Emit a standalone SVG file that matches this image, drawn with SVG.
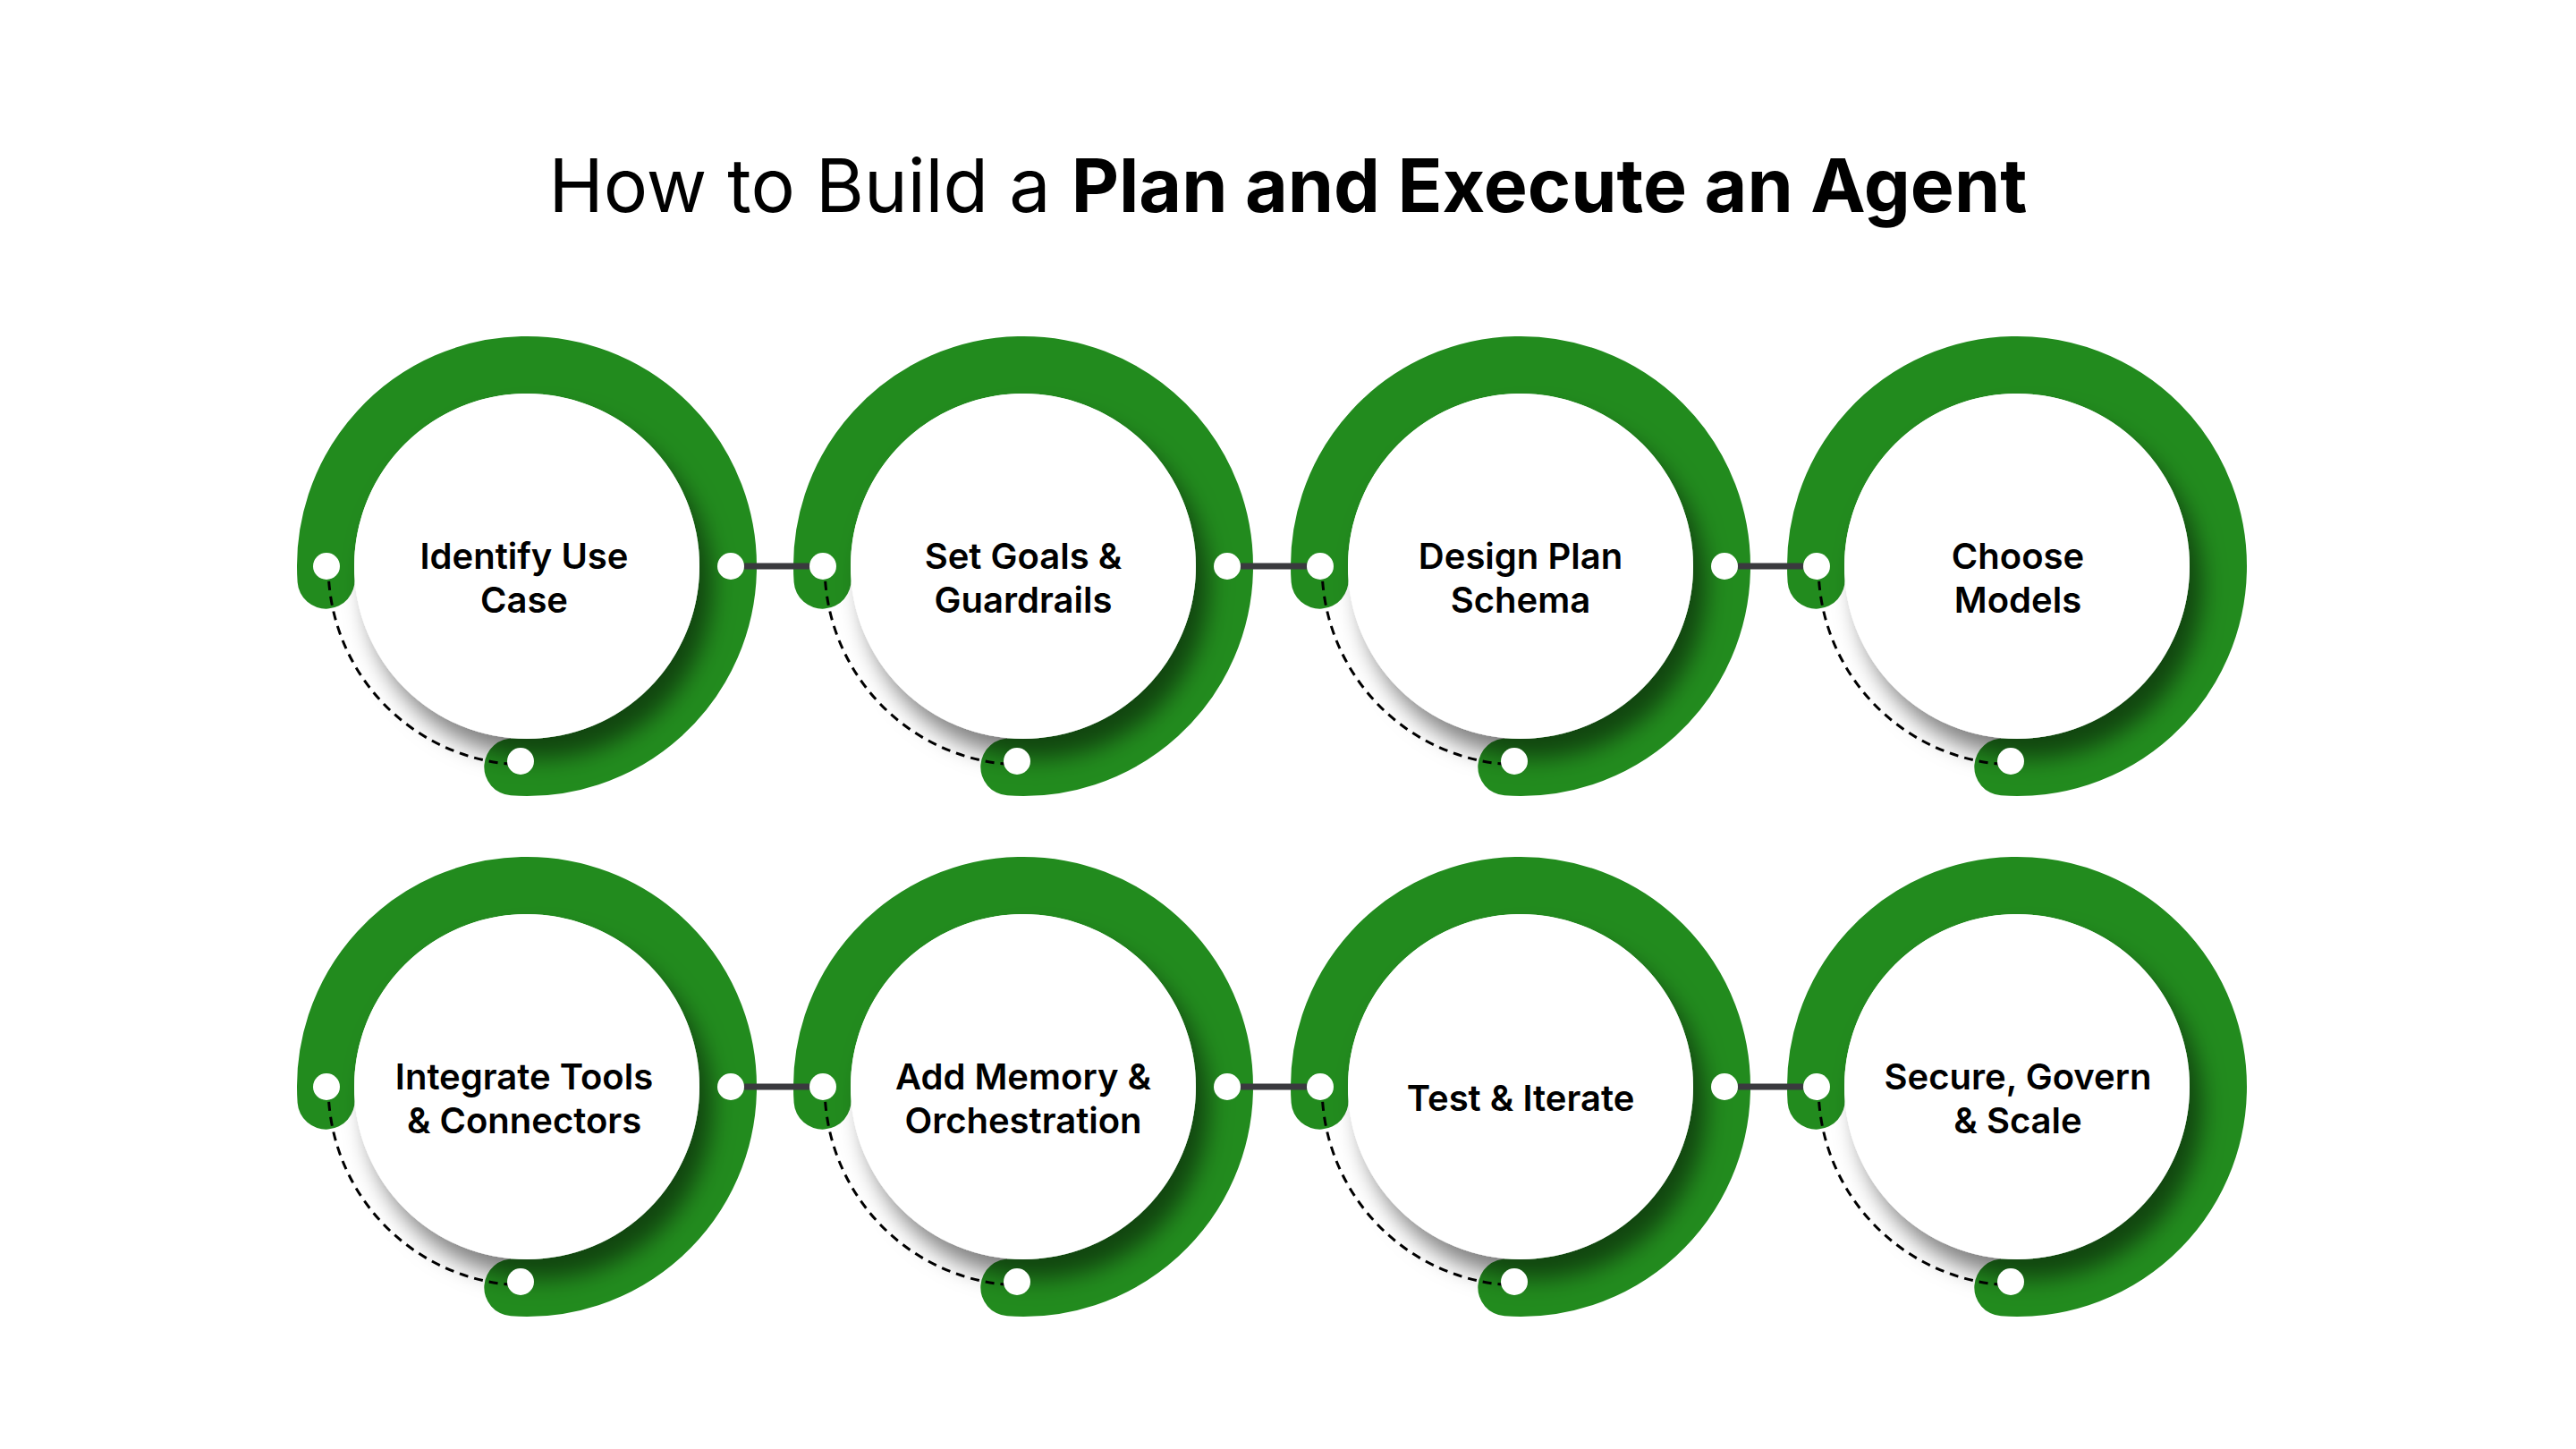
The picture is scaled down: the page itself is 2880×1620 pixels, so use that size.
<svg xmlns="http://www.w3.org/2000/svg" xmlns:xlink="http://www.w3.org/1999/xlink" width="2880" height="1620" viewBox="0 0 2880 1620">
  <style>
    .title { font-family: Inter, "Liberation Sans", sans-serif; font-size: 82.4px; fill: #000; }
    .title .b { font-weight: 700; }
    .label { font-family: Inter, "Liberation Sans", sans-serif; font-size: 40px; font-weight: 600; fill: #000; text-anchor: middle; }
    .ring { fill: none; stroke: #228B1E; stroke-width: 64; stroke-linecap: round; }
    .disc { fill: #fff; filter: url(#shadow); }
    .dash { fill: none; stroke: #000; stroke-width: 3; stroke-dasharray: 10 7; }
    .dot { fill: #fff; }
    .conn { stroke: #3a3a3e; stroke-width: 7; }
  </style>
  <defs>
    <filter id="shadow" x="-30%" y="-30%" width="160%" height="160%">
      <feDropShadow dx="14" dy="22" stdDeviation="13" flood-color="#000" flood-opacity="0.5"/>
    </filter>
    <g id="base">
      <path class="ring" d="M -224.45 15.7 A 225 225 0 1 1 -15.7 224.45"/>
      <circle class="disc" cx="0" cy="0" r="193"/>
      <path class="dash" d="M -222 0 A 222 222 0 0 0 -7.7 221.9"/>
      <circle class="dot" cx="-224" cy="0" r="15"/>
      <circle class="dot" cx="-7" cy="218" r="15"/>
    </g>
    <g id="node">
      <use xlink:href="#base" href="#base"/>
      <circle class="dot" cx="228" cy="0" r="15"/>
    </g>
  </defs>
  <rect width="2880" height="1620" fill="#fff"/>

  <text class="title" x="1440" y="237" text-anchor="middle">How to Build a <tspan class="b">Plan and Execute an Agent</tspan></text>

  <g id="node1">
    <use xlink:href="#node" href="#node" x="589" y="633"/>
    <text class="label"><tspan x="586" y="636">Identify Use</tspan><tspan x="586" y="685">Case</tspan></text>
  </g>
  <g id="node2">
    <use xlink:href="#node" href="#node" x="1144" y="633"/>
    <text class="label"><tspan x="1144" y="636">Set Goals &amp;</tspan><tspan x="1144" y="685">Guardrails</tspan></text>
  </g>
  <g id="node3">
    <use xlink:href="#node" href="#node" x="1700" y="633"/>
    <text class="label"><tspan x="1700" y="636">Design Plan</tspan><tspan x="1700" y="685">Schema</tspan></text>
  </g>
  <g id="node4">
    <use xlink:href="#base" href="#base" x="2255" y="633"/>
    <text class="label"><tspan x="2256" y="636">Choose</tspan><tspan x="2256" y="685">Models</tspan></text>
  </g>
  <g id="node5">
    <use xlink:href="#node" href="#node" x="589" y="1215"/>
    <text class="label"><tspan x="586" y="1218">Integrate Tools</tspan><tspan x="586" y="1267">&amp; Connectors</tspan></text>
  </g>
  <g id="node6">
    <use xlink:href="#node" href="#node" x="1144" y="1215"/>
    <text class="label"><tspan x="1144" y="1218">Add Memory &amp;</tspan><tspan x="1144" y="1267">Orchestration</tspan></text>
  </g>
  <g id="node7">
    <use xlink:href="#node" href="#node" x="1700" y="1215"/>
    <text class="label" x="1700" y="1242">Test &amp; Iterate</text>
  </g>
  <g id="node8">
    <use xlink:href="#base" href="#base" x="2255" y="1215"/>
    <text class="label"><tspan x="2256" y="1218">Secure, Govern</tspan><tspan x="2256" y="1267">&amp; Scale</tspan></text>
  </g>

  <g id="connectors">
    <line class="conn" x1="832" y1="633" x2="905" y2="633"/>
    <line class="conn" x1="1387" y1="633" x2="1461" y2="633"/>
    <line class="conn" x1="1943" y1="633" x2="2016" y2="633"/>
    <line class="conn" x1="832" y1="1215" x2="905" y2="1215"/>
    <line class="conn" x1="1387" y1="1215" x2="1461" y2="1215"/>
    <line class="conn" x1="1943" y1="1215" x2="2016" y2="1215"/>
  </g>
</svg>
